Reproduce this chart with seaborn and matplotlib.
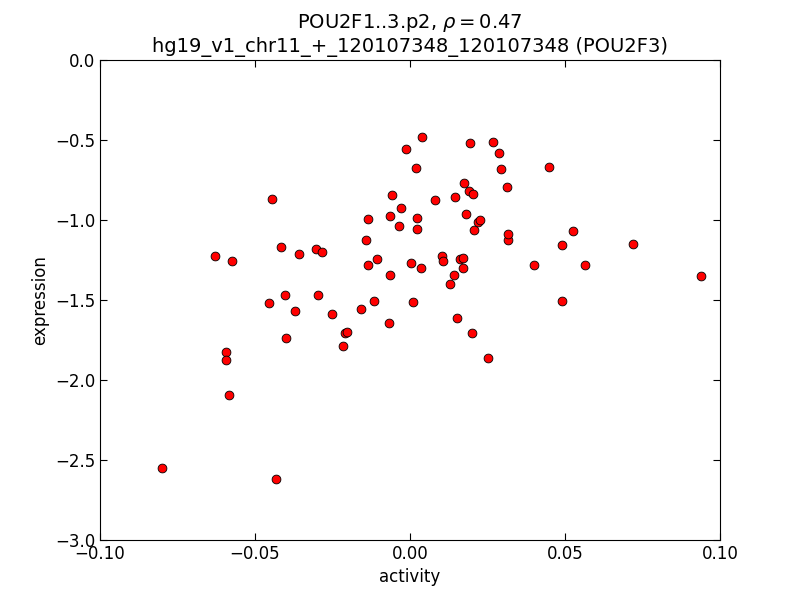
import numpy as np
import pandas as pd
import matplotlib
matplotlib.use("Agg")
import matplotlib.pyplot as plt
import seaborn as sns

activity = [-0.0629, -0.0574, -0.0445, -0.0416, -0.0358, -0.0303, -0.0284, -0.0594, -0.0594, -0.0584,
            -0.0800, -0.0432, -0.0455, -0.0403, -0.0400, -0.0371, -0.0297, -0.0252, -0.0216, -0.0210,
            -0.0203, -0.0158, -0.0142, -0.0135, -0.0135, -0.0116, -0.0106, -0.0068, -0.0065, -0.0058,
            -0.0065, -0.0035, -0.0029, -0.0013, 0.0003, 0.0010, 0.0019, 0.0023, 0.0023, 0.0035,
            0.0039, 0.0081, 0.0103, 0.0106, 0.0129, 0.0142, 0.0145, 0.0152, 0.0161, 0.0171,
            0.0171, 0.0174, 0.0181, 0.0190, 0.0194, 0.0200, 0.0203, 0.0206, 0.0219, 0.0226,
            0.0252, 0.0268, 0.0287, 0.0294, 0.0313, 0.0316, 0.0316, 0.0400, 0.0448, 0.0490,
            0.0490, 0.0526, 0.0565, 0.0719, 0.0939]
expression = [-1.225, -1.256, -0.869, -1.169, -1.213, -1.181, -1.200, -1.825, -1.875, -2.094,
              -2.550, -2.620, -1.519, -1.469, -1.738, -1.569, -1.469, -1.588, -1.788, -1.706,
              -1.700, -1.556, -1.125, -0.994, -1.281, -1.506, -1.244, -1.644, -1.344, -0.844,
              -0.975, -1.038, -0.925, -0.556, -1.269, -1.513, -0.675, -1.056, -0.988, -1.300,
              -0.481, -0.875, -1.225, -1.256, -1.400, -1.344, -0.856, -1.613, -1.244, -1.300,
              -1.238, -0.769, -0.963, -0.819, -0.519, -1.706, -0.838, -1.063, -1.013, -1.000,
              -1.863, -0.513, -0.581, -0.681, -0.794, -1.125, -1.088, -1.281, -0.669, -1.156,
              -1.506, -1.069, -1.281, -1.150, -1.350]

df = pd.DataFrame({"activity": activity, "expression": expression})

sns.set_style("ticks", {"xtick.direction": "in", "ytick.direction": "in",
                        "text.color": "black", "axes.labelcolor": "black",
                        "xtick.color": "black", "ytick.color": "black"})
plt.rcParams["font.family"] = ["DejaVu Sans"]

fig = plt.figure(figsize=(8, 6), dpi=100)
ax = fig.add_axes([0.125, 0.1, 0.775, 0.8])
sns.scatterplot(data=df, x="activity", y="expression", ax=ax,
                color="red", edgecolor="black", linewidth=0.6, s=40, zorder=3)
ax.set_xlim(-0.10, 0.10)
ax.set_ylim(-3.0, 0.0)
ax.set_xticks([-0.10, -0.05, 0.00, 0.05, 0.10])
ax.set_yticks([-3.0, -2.5, -2.0, -1.5, -1.0, -0.5, 0.0])
ax.tick_params(labelsize=12, top=True, right=True, length=5)
ax.set_xlabel("activity", fontsize=12)
ax.set_ylabel("expression", fontsize=12)
ax.set_title("POU2F1..3.p2, $\\rho = 0.47$\nhg19_v1_chr11_+_120107348_120107348 (POU2F3)", fontsize=14)
for sp in ax.spines.values():
    sp.set_visible(True)
    sp.set_color("black")

fig.savefig("out.png", dpi=100)
